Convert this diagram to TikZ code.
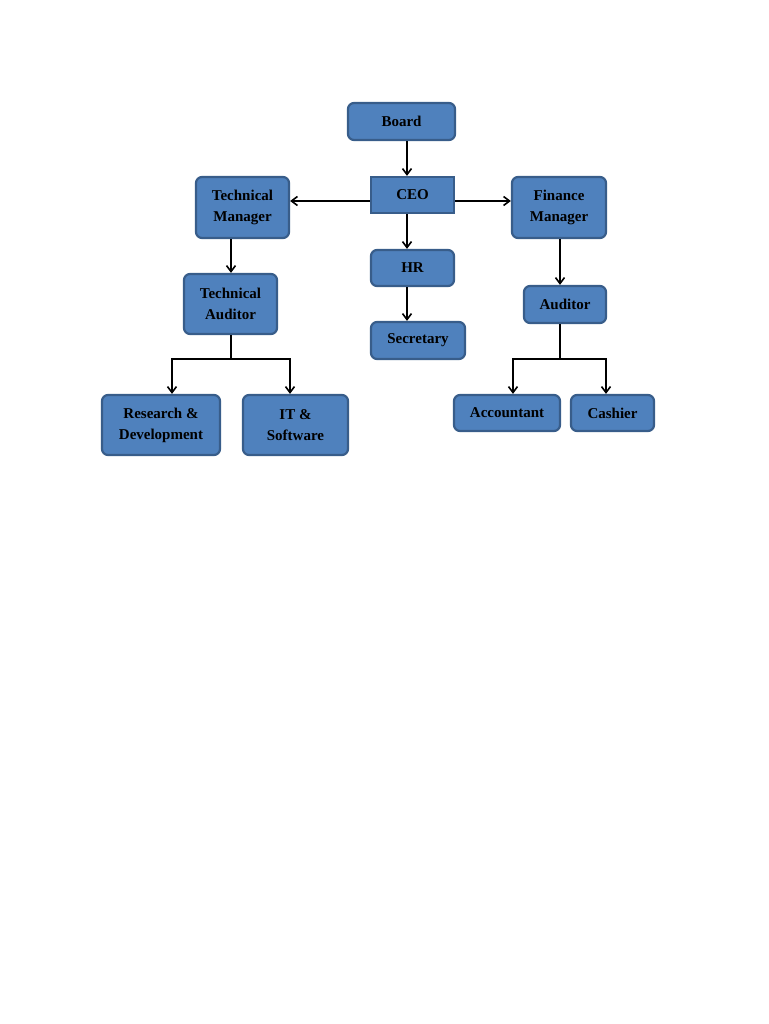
\documentclass[tikz,border=0pt]{standalone}
\usepackage{fontspec}
\setmainfont{Liberation Serif}
\usetikzlibrary{arrows.meta}
\definecolor{boxfill}{HTML}{4F81BD}
\definecolor{boxline}{HTML}{385D8A}
\begin{document}
\begin{tikzpicture}[x=1pt,y=-1pt,
  box/.style={draw=boxline, line width=2.2pt, fill=boxfill, rounded corners=6pt, inner sep=0pt, align=center,
    font=\fontsize{15}{21}\selectfont\bfseries},
  conn/.style={line width=1.7pt, black, -{Straight Barb[length=6pt,width=9pt,line width=1.6pt]}},
  plain/.style={line width=1.7pt, black}]
\useasboundingbox (0,0) rectangle (768,1024);
\node[box, minimum width=107pt, minimum height=37pt] (board) at (401.5,121.5) {Board};
\node[box, rounded corners=0pt, minimum width=83pt, minimum height=36pt] (ceo) at (412.5,195) {CEO};
\node[box, minimum width=93pt, minimum height=61pt] (tm) at (242.5,207.5) {Technical\\Manager};
\node[box, minimum width=94pt, minimum height=61pt] (fm) at (559,207.5) {Finance\\Manager};
\node[box, minimum width=83pt, minimum height=36pt] (hr) at (412.5,268) {HR};
\node[box, minimum width=94pt, minimum height=37pt] (sec) at (418,340.5) {Secretary};
\node[box, minimum width=93pt, minimum height=60pt] (ta) at (230.5,304) {Technical\\Auditor};
\node[box, minimum width=82pt, minimum height=37pt] (aud) at (565,304.5) {Auditor};
\node[box, minimum width=118pt, minimum height=60pt] (rd) at (161,425) {Research \&\\Development};
\node[box, minimum width=105pt, minimum height=60pt] (it) at (295.5,425) {IT \&\\Software};
\node[box, minimum width=106pt, minimum height=36pt] (acc) at (507,413) {Accountant};
\node[box, minimum width=83pt, minimum height=36pt] (cash) at (612.5,413) {Cashier};

\coordinate (j1) at (231,359);
\coordinate (j2) at (560,359);

\draw[conn] (board.south -| 407,0) -- (ceo.north -| 407,0);
\draw[conn] (ceo.west |- 0,201) -- (tm.east |- 0,201);
\draw[conn] (ceo.east |- 0,201) -- (fm.west |- 0,201);
\draw[conn] (ceo.south -| 407,0) -- (hr.north -| 407,0);
\draw[conn] (hr.south -| 407,0) -- (sec.north -| 407,0);
\draw[conn] (tm.south -| 231,0) -- (ta.north -| 231,0);
\draw[conn] (fm.south -| 560,0) -- (aud.north -| 560,0);
\draw[plain] (ta.south -| j1) -- (j1);
\draw[conn] (j1) -- (172,359) -- (rd.north -| 172,0);
\draw[conn] (j1) -- (290,359) -- (it.north -| 290,0);
\draw[plain] (aud.south -| j2) -- (j2);
\draw[conn] (j2) -- (513,359) -- (acc.north -| 513,0);
\draw[conn] (j2) -- (606,359) -- (cash.north -| 606,0);
\end{tikzpicture}
\end{document}
